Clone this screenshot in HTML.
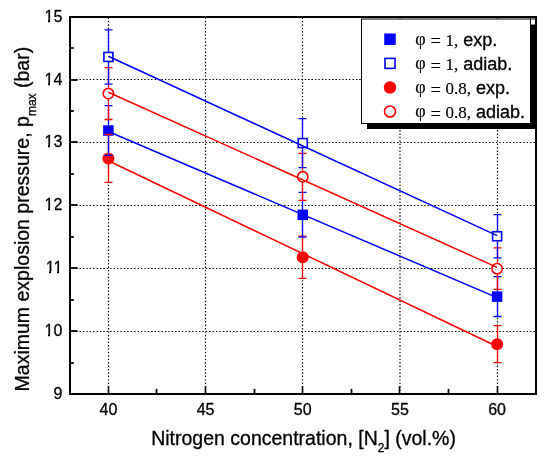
<!DOCTYPE html><html><head><meta charset="utf-8"><style>html,body{margin:0;padding:0;background:#fff;}svg{display:block;}.s{font-family:"Liberation Sans",Arial,sans-serif;}text{stroke:#000;stroke-width:0.3px;}.r{font-family:"Liberation Serif","Times New Roman",serif;stroke-width:0.15px;}</style></head><body><svg width="550" height="459" viewBox="0 0 550 459"><rect x="0" y="0" width="550" height="459" fill="#fff"/><line x1="108.50" y1="394" x2="108.50" y2="17" stroke="#000" stroke-width="1.2" stroke-dasharray="1.4 2.013" stroke-dashoffset="0.239"/><line x1="205.50" y1="394" x2="205.50" y2="17" stroke="#000" stroke-width="1.2" stroke-dasharray="1.4 2.013" stroke-dashoffset="0.239"/><line x1="302.50" y1="394" x2="302.50" y2="17" stroke="#000" stroke-width="1.2" stroke-dasharray="1.4 2.013" stroke-dashoffset="0.239"/><line x1="400.00" y1="394" x2="400.00" y2="17" stroke="#000" stroke-width="1.2" stroke-dasharray="1.4 2.013" stroke-dashoffset="0.239"/><line x1="497.50" y1="394" x2="497.50" y2="17" stroke="#000" stroke-width="1.2" stroke-dasharray="1.4 2.013" stroke-dashoffset="0.239"/><line x1="70" y1="331.50" x2="536" y2="331.50" stroke="#000" stroke-width="1.2" stroke-dasharray="1.4 2.013" stroke-dashoffset="0.739"/><line x1="70" y1="268.50" x2="536" y2="268.50" stroke="#000" stroke-width="1.2" stroke-dasharray="1.4 2.013" stroke-dashoffset="0.739"/><line x1="70" y1="205.50" x2="536" y2="205.50" stroke="#000" stroke-width="1.2" stroke-dasharray="1.4 2.013" stroke-dashoffset="0.739"/><line x1="70" y1="142.50" x2="536" y2="142.50" stroke="#000" stroke-width="1.2" stroke-dasharray="1.4 2.013" stroke-dashoffset="0.739"/><line x1="70" y1="79.50" x2="536" y2="79.50" stroke="#000" stroke-width="1.2" stroke-dasharray="1.4 2.013" stroke-dashoffset="0.739"/><line x1="108.50" y1="394" x2="108.50" y2="386.3" stroke="#000" stroke-width="1.6"/><line x1="205.50" y1="394" x2="205.50" y2="386.3" stroke="#000" stroke-width="1.6"/><line x1="302.50" y1="394" x2="302.50" y2="386.3" stroke="#000" stroke-width="1.6"/><line x1="399.50" y1="394" x2="399.50" y2="386.3" stroke="#000" stroke-width="1.6"/><line x1="497.50" y1="394" x2="497.50" y2="386.3" stroke="#000" stroke-width="1.6"/><line x1="156.50" y1="394" x2="156.50" y2="388.9" stroke="#000" stroke-width="1.8"/><line x1="254.50" y1="394" x2="254.50" y2="388.9" stroke="#000" stroke-width="1.8"/><line x1="351.50" y1="394" x2="351.50" y2="388.9" stroke="#000" stroke-width="1.8"/><line x1="448.50" y1="394" x2="448.50" y2="388.9" stroke="#000" stroke-width="1.8"/><line x1="70" y1="331.00" x2="77.6" y2="331.00" stroke="#000" stroke-width="1.8"/><line x1="70" y1="268.00" x2="77.6" y2="268.00" stroke="#000" stroke-width="1.8"/><line x1="70" y1="205.00" x2="77.6" y2="205.00" stroke="#000" stroke-width="1.8"/><line x1="70" y1="142.00" x2="77.6" y2="142.00" stroke="#000" stroke-width="1.8"/><line x1="70" y1="80.00" x2="77.6" y2="80.00" stroke="#000" stroke-width="1.8"/><line x1="70" y1="363.00" x2="73.8" y2="363.00" stroke="#000" stroke-width="1.8"/><line x1="70" y1="300.00" x2="73.8" y2="300.00" stroke="#000" stroke-width="1.8"/><line x1="70" y1="237.00" x2="73.8" y2="237.00" stroke="#000" stroke-width="1.8"/><line x1="70" y1="174.00" x2="73.8" y2="174.00" stroke="#000" stroke-width="1.8"/><line x1="70" y1="111.00" x2="73.8" y2="111.00" stroke="#000" stroke-width="1.8"/><line x1="70" y1="48.00" x2="73.8" y2="48.00" stroke="#000" stroke-width="1.8"/><rect x="103.15" y="125.25" width="10.5" height="10.5" fill="#0000ff"/><rect x="297.50" y="209.57" width="10.5" height="10.5" fill="#0000ff"/><rect x="491.85" y="291.37" width="10.5" height="10.5" fill="#0000ff"/><rect x="103.90" y="52.44" width="9.0" height="9.0" fill="#fff" stroke="#0000ff" stroke-width="1.6"/><rect x="298.25" y="138.58" width="9.0" height="9.0" fill="#fff" stroke="#0000ff" stroke-width="1.6"/><rect x="492.60" y="231.76" width="9.0" height="9.0" fill="#fff" stroke="#0000ff" stroke-width="1.6"/><circle cx="108.40" cy="158.42" r="6.0" fill="#ff0000"/><circle cx="302.75" cy="257.20" r="6.0" fill="#ff0000"/><circle cx="497.10" cy="344.15" r="6.0" fill="#ff0000"/><circle cx="108.40" cy="93.53" r="5.2" fill="#fff" stroke="#ff0000" stroke-width="1.6"/><circle cx="302.75" cy="176.84" r="5.2" fill="#fff" stroke="#ff0000" stroke-width="1.6"/><circle cx="497.10" cy="268.70" r="5.2" fill="#fff" stroke="#ff0000" stroke-width="1.6"/><line x1="108.40" y1="131.52" x2="497.10" y2="297.64" stroke="#0000ff" stroke-width="1.5"/><line x1="108.40" y1="56.27" x2="497.10" y2="235.59" stroke="#0000ff" stroke-width="1.5"/><line x1="108.40" y1="160.79" x2="497.10" y2="346.52" stroke="#ff0000" stroke-width="1.5"/><line x1="108.40" y1="92.26" x2="497.10" y2="267.43" stroke="#ff0000" stroke-width="1.5"/><path d="M108.50 152.42V134.38M108.50 164.42V182.46M104.50 134.38H112.50M104.50 182.46H112.50" stroke="#ff0000" stroke-width="1.3" fill="none"/><path d="M302.50 251.20V236.12M302.50 263.20V278.28M298.50 236.12H306.50M298.50 278.28H306.50" stroke="#ff0000" stroke-width="1.3" fill="none"/><path d="M497.50 338.15V325.68M497.50 350.15V362.62M493.50 325.68H501.50M493.50 362.62H501.50" stroke="#ff0000" stroke-width="1.3" fill="none"/><path d="M108.50 125.25V105.62M108.50 135.75V155.38M104.50 105.62H112.50M104.50 155.38H112.50" stroke="#0000ff" stroke-width="1.3" fill="none"/><path d="M302.50 209.57V192.47M302.50 220.07V237.17M298.50 192.47H306.50M298.50 237.17H306.50" stroke="#0000ff" stroke-width="1.3" fill="none"/><path d="M497.50 291.37V276.72M497.50 301.87V316.52M493.50 276.72H501.50M493.50 316.52H501.50" stroke="#0000ff" stroke-width="1.3" fill="none"/><path d="M108.50 87.53V67.54M108.50 99.53V119.52M104.50 67.54H112.50M104.50 119.52H112.50" stroke="#ff0000" stroke-width="1.3" fill="none"/><path d="M302.50 170.84V153.35M302.50 182.84V200.33M298.50 153.35H306.50M298.50 200.33H306.50" stroke="#ff0000" stroke-width="1.3" fill="none"/><path d="M497.50 262.70V247.97M497.50 274.70V289.44M493.50 247.97H501.50M493.50 289.44H501.50" stroke="#ff0000" stroke-width="1.3" fill="none"/><path d="M108.50 51.64V29.85M108.50 62.24V84.03M104.50 29.85H112.50M104.50 84.03H112.50" stroke="#0000ff" stroke-width="1.3" fill="none"/><path d="M302.50 137.78V118.58M302.50 148.38V167.58M298.50 118.58H306.50M298.50 167.58H306.50" stroke="#0000ff" stroke-width="1.3" fill="none"/><path d="M497.50 230.96V214.55M497.50 241.56V257.97M493.50 214.55H501.50M493.50 257.97H501.50" stroke="#0000ff" stroke-width="1.3" fill="none"/><rect x="70" y="17" width="466" height="377" fill="none" stroke="#000" stroke-width="2"/><rect x="367" y="24.5" width="169" height="104.5" fill="#000"/><rect x="361.5" y="19.0" width="169.0" height="104.5" fill="#fff" stroke="#000" stroke-width="1"/><line x1="530" y1="19.0" x2="535" y2="19.0" stroke="#000" stroke-width="1"/><rect x="384.25" y="33.45" width="11.5" height="11.5" fill="#0000ff"/><text y="45.6" font-size="18"><tspan class="r" x="415.2" y="44.8" font-size="18">φ</tspan><tspan class="r" x="430.4" y="47.4" font-size="18.5">=</tspan><tspan class="r" x="445.5" y="45.6" font-size="17">1,</tspan><tspan class="s"> exp.</tspan></text><rect x="385.00" y="58.40" width="10.0" height="10.0" fill="#fff" stroke="#0000ff" stroke-width="1.6"/><text y="69.8" font-size="18"><tspan class="r" x="415.2" y="69.0" font-size="18">φ</tspan><tspan class="r" x="430.4" y="71.6" font-size="18.5">=</tspan><tspan class="r" x="445.5" y="69.8" font-size="17">1,</tspan><tspan class="s"> adiab.</tspan></text><circle cx="390.00" cy="87.50" r="6.2" fill="#ff0000"/><text y="93.9" font-size="18"><tspan class="r" x="415.2" y="93.1" font-size="18">φ</tspan><tspan class="r" x="430.4" y="95.7" font-size="18.5">=</tspan><tspan class="r" x="445.5" y="93.9" font-size="17">0.8,</tspan><tspan class="s"> exp.</tspan></text><circle cx="390.00" cy="111.50" r="5.5" fill="#fff" stroke="#ff0000" stroke-width="1.6"/><text y="117.9" font-size="18"><tspan class="r" x="415.2" y="117.1" font-size="18">φ</tspan><tspan class="r" x="430.4" y="119.7" font-size="18.5">=</tspan><tspan class="r" x="445.5" y="117.9" font-size="17">0.8,</tspan><tspan class="s"> adiab.</tspan></text><text class="s" x="62.3" y="398.9" font-size="16" text-anchor="end">9</text><text class="s" x="62.3" y="336.1" font-size="16" text-anchor="end">10</text><text class="s" x="62.3" y="273.2" font-size="16" text-anchor="end">11</text><text class="s" x="62.3" y="210.3" font-size="16" text-anchor="end">12</text><text class="s" x="62.3" y="147.4" font-size="16" text-anchor="end">13</text><text class="s" x="62.3" y="84.6" font-size="16" text-anchor="end">14</text><text class="s" x="62.3" y="21.7" font-size="16" text-anchor="end">15</text><text class="s" x="108.40" y="414.6" font-size="16" text-anchor="middle">40</text><text class="s" x="205.57" y="414.6" font-size="16" text-anchor="middle">45</text><text class="s" x="302.75" y="414.6" font-size="16" text-anchor="middle">50</text><text class="s" x="399.92" y="414.6" font-size="16" text-anchor="middle">55</text><text class="s" x="497.10" y="414.6" font-size="16" text-anchor="middle">60</text><rect x="44" y="334" width="4" height="3" fill="#fff"/><rect x="50" y="334" width="5" height="3" fill="#fff"/><rect x="46" y="271" width="3" height="3" fill="#fff"/><rect x="51" y="271" width="3" height="3" fill="#fff"/><rect x="54" y="271" width="3" height="3" fill="#fff"/><rect x="59" y="271" width="4" height="3" fill="#fff"/><rect x="44" y="208" width="4" height="3" fill="#fff"/><rect x="50" y="208" width="5" height="3" fill="#fff"/><rect x="44" y="145" width="4" height="3" fill="#fff"/><rect x="50" y="145" width="5" height="3" fill="#fff"/><rect x="44" y="83" width="4" height="3" fill="#fff"/><rect x="50" y="83" width="5" height="3" fill="#fff"/><rect x="44" y="20" width="4" height="3" fill="#fff"/><rect x="50" y="20" width="5" height="3" fill="#fff"/><text class="s" x="151.2" y="444.8" font-size="19.5">Nitrogen concentration, [N<tspan font-size="12" dy="7">2</tspan><tspan dy="-7">] (vol.%)</tspan></text><text class="s" transform="translate(28.6 391.4) rotate(-90)" x="0" y="0" font-size="19.5">Maximum explosion pressure, p<tspan font-size="12" dy="7">max</tspan><tspan dy="-7"> (bar)</tspan></text></svg></body></html>
